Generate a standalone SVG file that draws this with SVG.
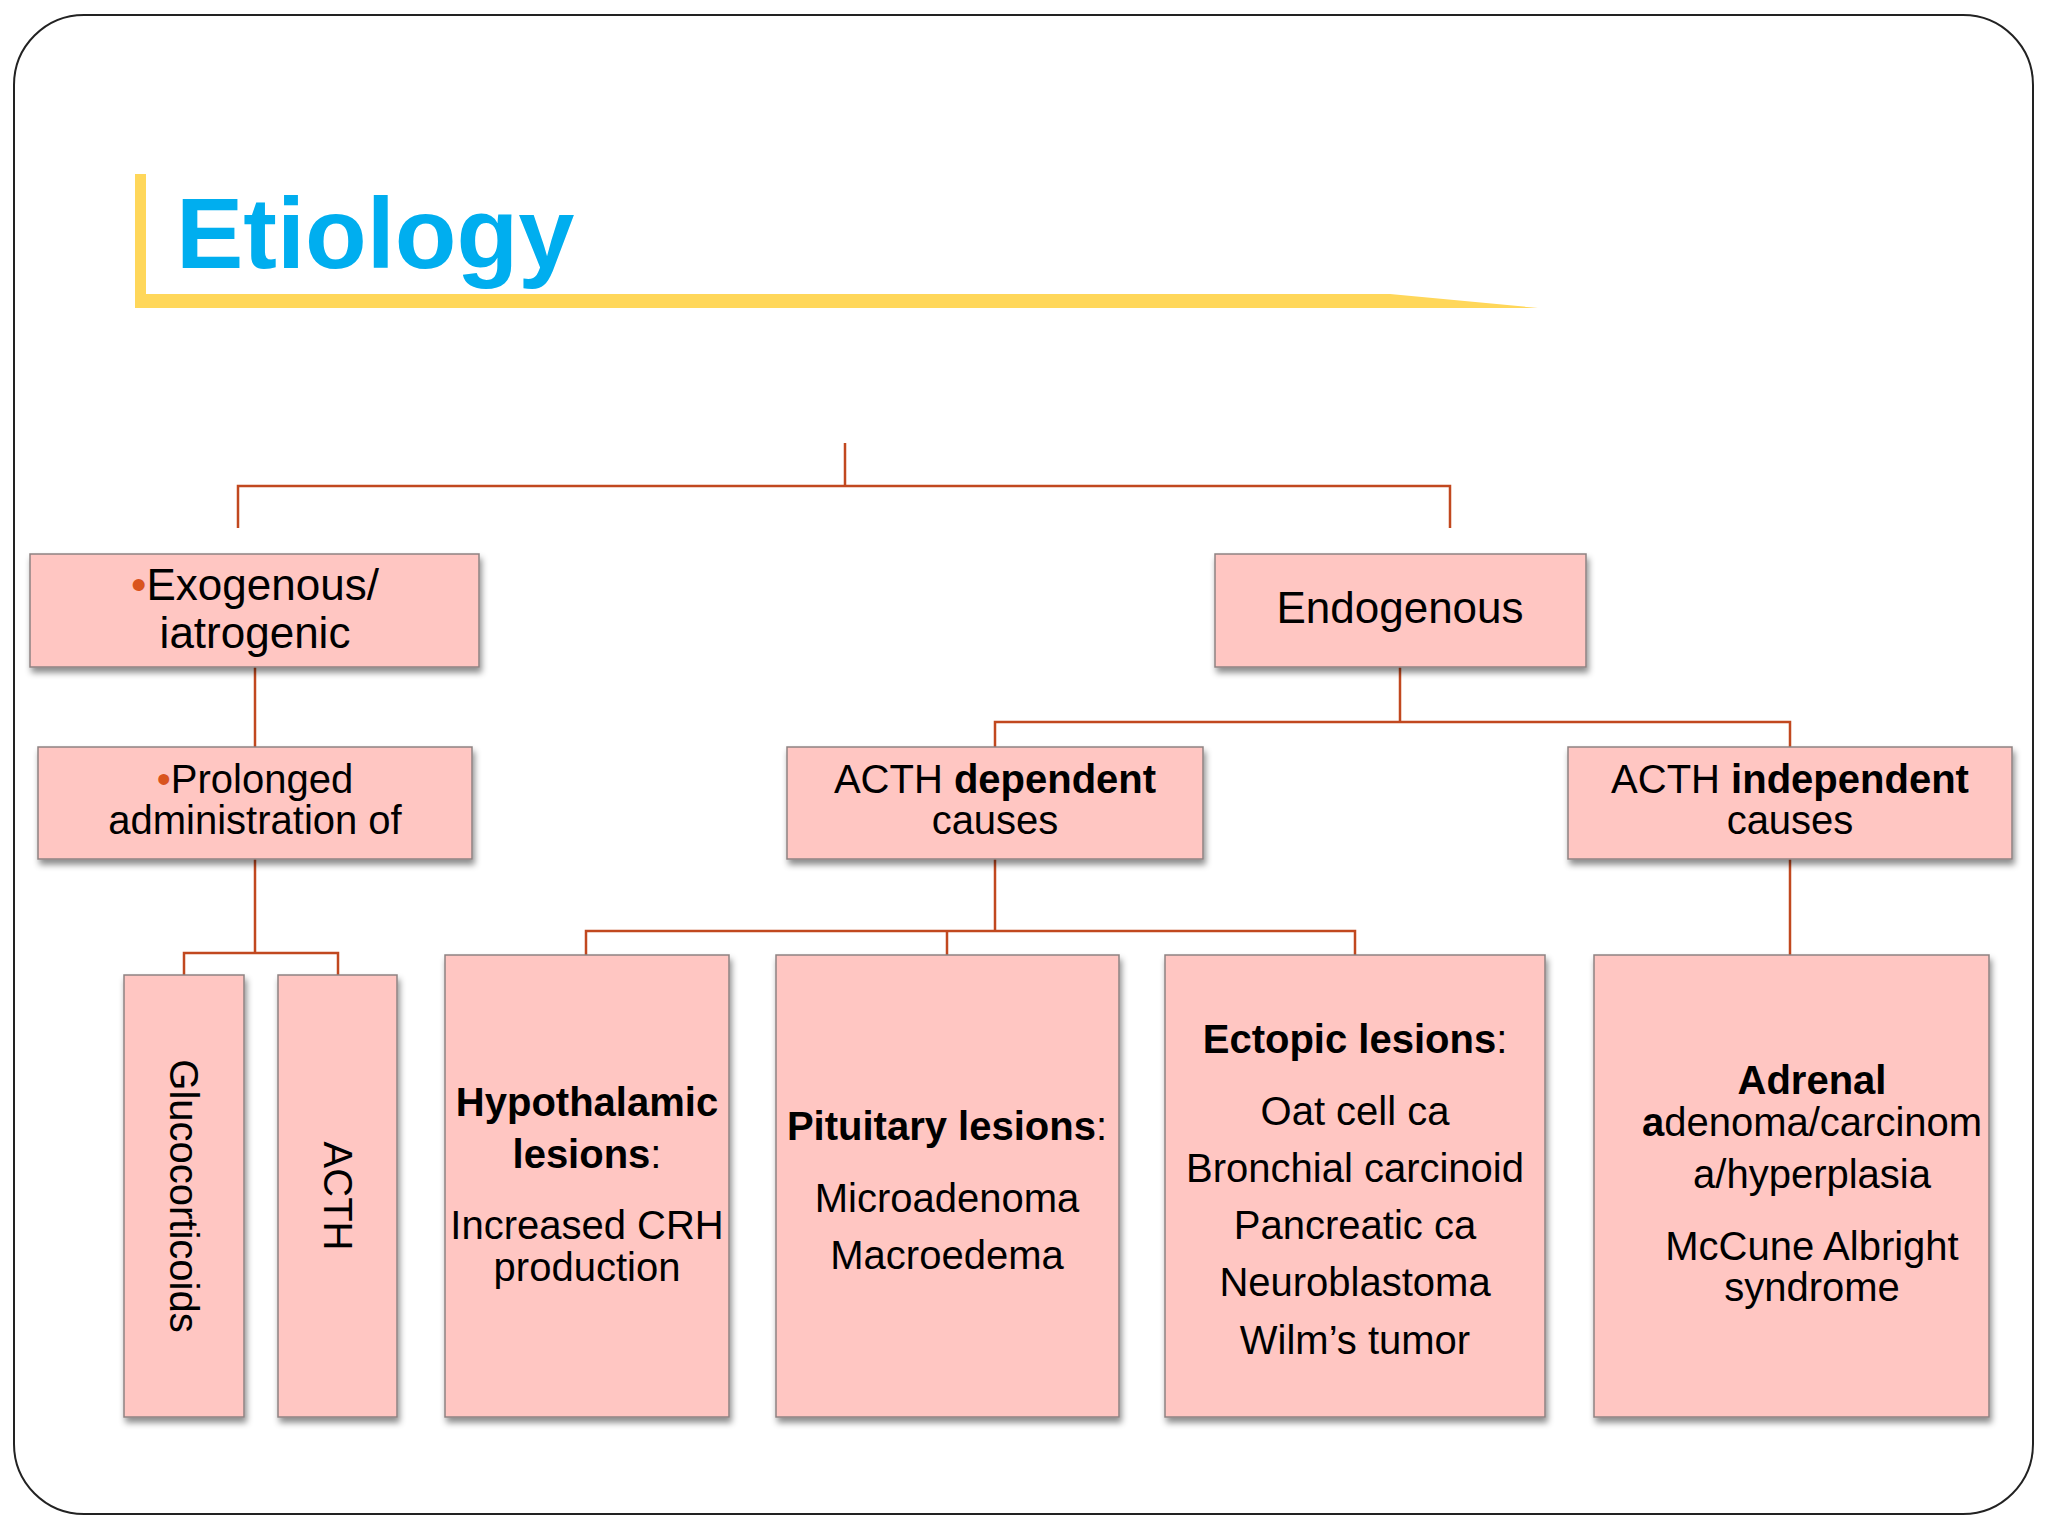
<svg xmlns="http://www.w3.org/2000/svg" width="2048" height="1536" viewBox="0 0 2048 1536">
<defs>
<filter id="sh" x="-10%" y="-10%" width="125%" height="130%">
<feDropShadow dx="2" dy="5" stdDeviation="3" flood-color="#000" flood-opacity="0.45"/>
</filter>
<style>
.box{fill:#FFC6C2;stroke:#8E8282;stroke-width:1.5;filter:url(#sh)}
.t{font-family:"Liberation Sans",Arial,Helvetica,sans-serif;font-size:40px;fill:#000;text-anchor:middle}
.t44{font-size:44px}
.b{font-weight:bold}
.bul{fill:#D9541E}
.con{fill:none;stroke:#C1481F;stroke-width:2.5}
</style>
</defs>
<rect x="0" y="0" width="2048" height="1536" fill="#fff"/>
<rect x="14" y="15" width="2019" height="1499" rx="70" ry="70" fill="#fff" stroke="#222" stroke-width="2"/>
<g id="title">
<polygon points="135,174 146,174 146,294 1390,294 1538,308 135,308" fill="#FFD75A"/>
<text x="176" y="268" font-family="'Liberation Sans',Arial,sans-serif" font-weight="bold" font-size="101" fill="#00AEEF">Etiology</text>
</g>
<g id="connectors">
<path class="con" d="M845,443 V486 M238,528 V486 H1450 V528" stroke-width="2"/>
<path class="con" d="M255,667 V747"/>
<path class="con" d="M255,859 V953 M184,975 V953 H338 V975"/>
<path class="con" d="M1400,667 V722 M995,747 V722 H1790 V747"/>
<path class="con" d="M995,859 V931 M586,955 V931 H1355 V955 M947,931 V955"/>
<path class="con" d="M1790,859 V955"/>
</g>
<g id="exogenous">
<rect class="box" x="30" y="554" width="449" height="113"/>
<text class="t t44" x="255" y="600"><tspan class="bul">•</tspan>Exogenous/</text>
<text class="t t44" x="255" y="648">iatrogenic</text>
</g>
<g id="prolonged">
<rect class="box" x="38" y="747" width="434" height="112"/>
<text class="t" x="255" y="793"><tspan class="bul">•</tspan>Prolonged</text>
<text class="t" x="255" y="834">administration of</text>
</g>
<g id="endogenous">
<rect class="box" x="1215" y="554" width="371" height="113"/>
<text class="t t44" x="1400" y="623">Endogenous</text>
</g>
<g id="acth-dependent">
<rect class="box" x="787" y="747" width="416" height="112"/>
<text class="t" x="995" y="793">ACTH <tspan class="b">dependent</tspan></text>
<text class="t" x="995" y="834">causes</text>
</g>
<g id="acth-independent">
<rect class="box" x="1568" y="747" width="444" height="112"/>
<text class="t" x="1790" y="793">ACTH <tspan class="b">independent</tspan></text>
<text class="t" x="1790" y="834">causes</text>
</g>
<g id="glucocorticoids">
<rect class="box" x="124" y="975" width="120" height="442"/>
<text class="t" transform="translate(184,1196) rotate(90)" x="0" y="14">Glucocorticoids</text>
</g>
<g id="acth">
<rect class="box" x="278" y="975" width="119" height="442"/>
<text class="t" transform="translate(338,1196) rotate(90)" x="0" y="14">ACTH</text>
</g>
<g id="hypothalamic">
<rect class="box" x="445" y="955" width="284" height="462"/>
<text class="t b" x="587" y="1116">Hypothalamic</text>
<text class="t" x="587" y="1168"><tspan class="b">lesions</tspan>:</text>
<text class="t" x="587" y="1239">Increased CRH</text>
<text class="t" x="587" y="1281">production</text>
</g>
<g id="pituitary">
<rect class="box" x="776" y="955" width="343" height="462"/>
<text class="t" x="947" y="1140"><tspan class="b">Pituitary lesions</tspan>:</text>
<text class="t" x="947" y="1212">Microadenoma</text>
<text class="t" x="947" y="1269">Macroedema</text>
</g>
<g id="ectopic">
<rect class="box" x="1165" y="955" width="380" height="462"/>
<text class="t" x="1355" y="1053"><tspan class="b">Ectopic lesions</tspan>:</text>
<text class="t" x="1355" y="1125">Oat cell ca</text>
<text class="t" x="1355" y="1182">Bronchial carcinoid</text>
<text class="t" x="1355" y="1239">Pancreatic ca</text>
<text class="t" x="1355" y="1296">Neuroblastoma</text>
<text class="t" x="1355" y="1354">Wilm’s tumor</text>
</g>
<g id="adrenal">
<rect class="box" x="1594" y="955" width="395" height="462"/>
<text class="t b" x="1812" y="1094">Adrenal</text>
<text class="t" x="1812" y="1136"><tspan class="b">a</tspan>denoma/carcinom</text>
<text class="t" x="1812" y="1188">a/hyperplasia</text>
<text class="t" x="1812" y="1260">McCune Albright</text>
<text class="t" x="1812" y="1301">syndrome</text>
</g>
</svg>
